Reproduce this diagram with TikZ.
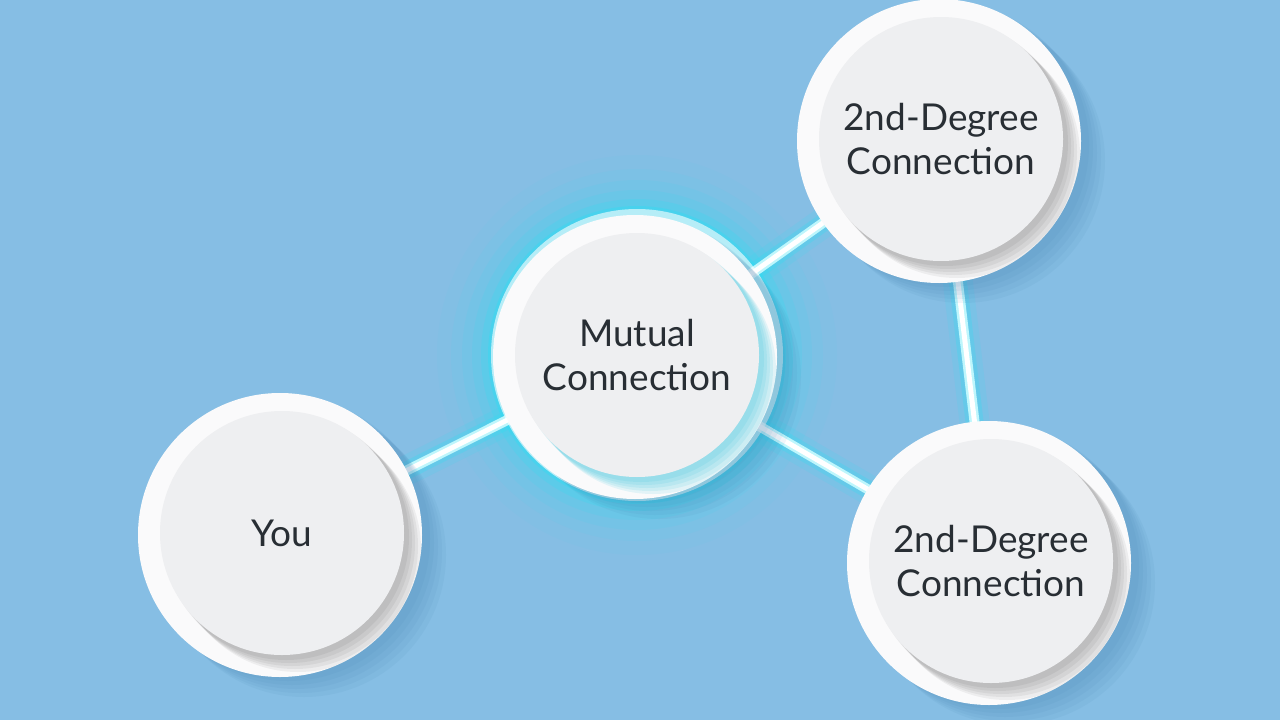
\documentclass[tikz,border=0pt]{standalone}
\usepackage{fontspec}
\setmainfont{Lato}
\usepackage{tikz}

\pgfdeclarelayer{bg}
\pgfdeclarelayer{links}
\pgfdeclarelayer{rims}
\pgfsetlayers{bg,links,rims,main}

\definecolor{sky}{RGB}{134,190,228}
\definecolor{face}{RGB}{238,239,241}
\definecolor{rim}{RGB}{250,250,251}
\definecolor{ink}{RGB}{40,46,52}
\definecolor{glow}{RGB}{40,225,245}
\definecolor{dusk}{RGB}{60,120,170}
\definecolor{lagoon}{RGB}{20,185,215}

\begin{document}
\begin{tikzpicture}[x=1pt, y=-1pt,
	bubble/.style = {circle, fill=face, minimum size=244pt, inner sep=0pt,
		text=ink, align=center, font=\fontsize{37}{44}\selectfont}]
	\useasboundingbox (0,0) rectangle (1280,720);
	\begin{pgfonlayer}{bg}
		\fill[sky] (0,0) rectangle (1280,720);
	\end{pgfonlayer}

	\node[bubble] (you) at (282,533) {You};
	\node[bubble] (mutual) at (637,355) {Mutual\\Connection};
	\node[bubble] (top) at (941,139) {2nd-Degree\\Connection};
	\node[bubble] (bottom) at (991,561) {2nd-Degree\\Connection};

	% glowing links
	\begin{pgfonlayer}{links}
		\foreach \r/\o in {200/.04,186/.06,175/.09,165/.13,156/.2,149/.35}
			\fill[glow, opacity=\o] (mutual) circle (\r);
		\foreach \a/\b in {you/mutual, mutual/top, mutual/bottom, top/bottom}{
			\draw[glow, opacity=.12, line width=30] (\a) -- (\b);
			\draw[glow, opacity=.25, line width=18] (\a) -- (\b);
			\draw[glow!30!white, line width=10] (\a) -- (\b);
			\draw[white, line width=5] (\a) -- (\b);
		}
		\fill[white, opacity=.6] (mutual) circle (146);
	\end{pgfonlayer}

	% rims and shadows
	\begin{pgfonlayer}{rims}
		\foreach \n/\sh/\o in {you/black/.05, mutual/lagoon/.1, top/black/.05, bottom/black/.05}{
			\foreach \d in {22,18,14,10,6}
				\fill[dusk, opacity=.07] ([shift={(\d,\d)}]\n.center) circle (142);
			\fill[rim] ([shift={(-2,2)}]\n.center) circle (142);
			\begin{scope}
				\clip ([shift={(-2,2)}]\n.center) circle (142);
				\foreach \d in {16,13,10,7,4}
					\fill[\sh, opacity=\o] ([shift={(\d,\d)}]\n.center) circle (123);
			\end{scope}
		}
	\end{pgfonlayer}
\end{tikzpicture}
\end{document}
